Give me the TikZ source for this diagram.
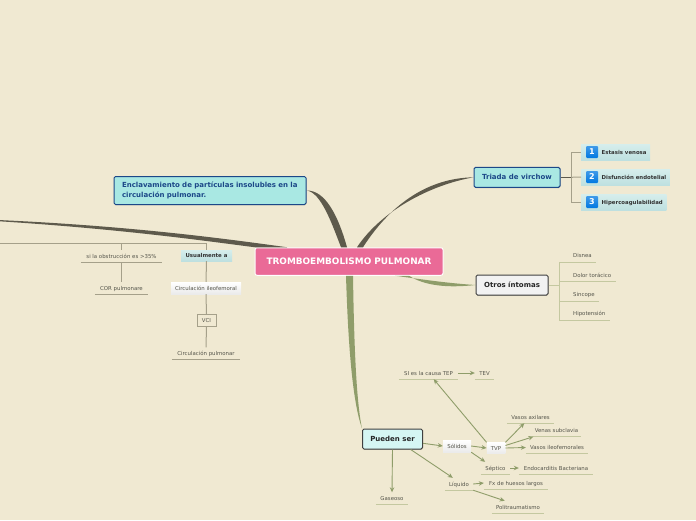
\documentclass[tikz,border=0pt]{standalone}
\usepackage{fontspec}
\setmainfont{DejaVu Sans}
\usepackage{xcolor}
\usetikzlibrary{shadows,arrows.meta}
\definecolor{mmcream}{RGB}{240,233,210}
\definecolor{mmpink}{RGB}{234,106,151}
\definecolor{mmaqua}{RGB}{169,232,227}
\definecolor{mmpale}{RGB}{213,246,243}
\definecolor{mmnavy}{RGB}{28,72,136}
\definecolor{mmdark}{RGB}{94,90,76}
\definecolor{mmolive}{RGB}{143,157,106}
\definecolor{mmline}{RGB}{165,160,138}
\definecolor{mmlineb}{RGB}{205,208,170}
\definecolor{mmtext}{RGB}{85,85,75}
\definecolor{mmblue}{RGB}{0,120,225}
\definecolor{mmnumtop}{RGB}{214,238,236}
\definecolor{mmnumbot}{RGB}{190,224,224}
\tikzstyle{arrow} = [-{Stealth[length=5pt,width=4.5pt]},line width=0.9pt,color=mmolive]
\tikzstyle{stem} = [line width=1pt,color=mmline]
\tikzstyle{stemb} = [line width=1pt,color=mmlineb!85!mmolive]
\tikzstyle{mainbox} = [rectangle, rounded corners=1.5pt, line width=1pt, drop shadow={shadow xshift=0.4pt,shadow yshift=-0.7pt,fill=black,opacity=0.3}, inner sep=0pt]
\tikzstyle{topic} = [mainbox, draw=mmnavy, fill=mmaqua, text=mmnavy, font=\fontsize{7}{9.5}\selectfont\bfseries]
\tikzstyle{plain} = [mainbox, draw=black!75, font=\fontsize{7}{8}\selectfont\bfseries, text=black!85]
\tikzstyle{leaf} = [font=\fontsize{5.4}{6}\selectfont, text=mmtext, inner sep=0pt, minimum height=12pt, text height=4pt, text depth=0pt, append after command={(\tikzlastnode.south west) edge[stem] (\tikzlastnode.south east)}]
\tikzstyle{leafb} = [font=\fontsize{5.4}{6}\selectfont, text=mmtext, inner sep=0pt, minimum height=12pt, text height=4pt, text depth=0pt, append after command={(\tikzlastnode.south west) edge[stemb] (\tikzlastnode.south east)}]
\tikzstyle{symptom} = [font=\fontsize{5.4}{6}\selectfont, text=mmtext, inner sep=0pt, anchor=south west, minimum height=12pt, text height=4pt, text depth=0pt, align=left]
\tikzstyle{numbox} = [font=\fontsize{5.4}{6}\selectfont\bfseries, text=black!80, anchor=west, inner xsep=3.5pt, minimum height=16pt, inner ysep=0pt, text height=4pt, text depth=0pt, top color=mmnumtop, bottom color=mmnumbot]
\tikzstyle{numicon} = [rounded corners=1pt, top color=mmblue!75!white, bottom color=mmblue, minimum size=12pt, inner sep=0pt, text=white, font=\fontsize{8}{8}\selectfont\bfseries]
\tikzstyle{softbox} = [font=\fontsize{5.4}{6}\selectfont, text=mmtext, inner sep=0pt, text height=4pt, text depth=0pt, top color=white, bottom color=black!8]
\begin{document}
\begin{tikzpicture}[x=1pt,y=-1pt]
\useasboundingbox[fill=mmcream] (0,0) rectangle (696,520);

% Central topic and main topics
\node (root) [rectangle, rounded corners=2pt, draw=white, line width=1pt, fill=mmpink, text=white, minimum width=188pt, minimum height=27.5pt, inner sep=0pt, font=\fontsize{8.9}{9}\selectfont\bfseries] at (349,261.5) {TROMBOEMBOLISMO PULMONAR};
\node (enclav) [topic, minimum width=192pt, minimum height=28pt, inner xsep=8pt, text width=176pt, align=left] at (210,190.5) {Enclavamiento de partículas insolubles en la\\circulación pulmonar.};
\node (triada) [topic, minimum width=86pt, minimum height=20pt] at (517,177.3) {Triada de virchow};
\node (otros) [plain, fill=black!5, minimum width=72pt, minimum height=20pt] at (512,285) {Otros íntomas};
\node (pueden) [plain, fill=mmpale, minimum width=60pt, minimum height=20pt] at (392.5,439) {Pueden ser};

% Tapered branches
\fill[mmdark] (-2,220) .. controls (130,226) and (220,238) .. ([xshift=-62pt]root.north) -- ([xshift=-94pt]root.north) .. controls (220,243) and (130,229.5) .. (-2,221.2) -- cycle;
\fill[mmdark] (enclav.east) .. controls (325,190) and (338,215) .. ([xshift=-2pt]root.north) -- ([xshift=-8pt]root.north) .. controls (332,224) and (321,192) .. (enclav.east) -- cycle;
\fill[mmdark] (triada.west) .. controls (430,178) and (392,202) .. ([xshift=14pt]root.north) -- ([xshift=8pt]root.north) .. controls (381,211) and (430,185) .. (triada.west) -- cycle;
\fill[mmolive] (otros.west) .. controls (445,283) and (420,279) .. ([xshift=46pt]root.south) -- ([xshift=60pt]root.south) .. controls (425,286) and (448,288) .. (otros.west) -- cycle;
\fill[mmolive] ([xshift=-3pt]root.south) .. controls (348,340) and (352,400) .. (pueden.north west) .. controls (356,400) and (354,340) .. ([xshift=4pt]root.south) -- cycle;

% Triada de virchow
\coordinate (virhub) at (571,177.3);
\node (estasis) [numbox] at (581,152) {\hspace*{17pt}Estasis venosa};
\node (disfuncion) [numbox] at (581,177) {\hspace*{17pt}Disfunción endotelial};
\node (hiper) [numbox] at (581,202) {\hspace*{17pt}Hipercoagulabilidad};
\node (uno) [numicon] at (592,152) {1};
\node (dos) [numicon] at (592,177) {2};
\node (tres) [numicon] at (592,202) {3};
\draw[stem, color=mmdark] (triada.east) -- (virhub);
\draw[stem] (virhub) |- (estasis.west);
\draw[stem] (virhub) -- (disfuncion.west);
\draw[stem] (virhub) |- (hiper.west);

% Otros intomas
\coordinate (otrohub) at (559,285);
\node (disnea) [symptom, text width=23pt] at (573,262) {Disnea};
\node (dolor) [symptom, text width=43pt] at (573,281.5) {Dolor torácico};
\node (sincope) [symptom, text width=26pt] at (573,301) {Sincope};
\node (hipo) [symptom, text width=37pt] at (573,320) {Hipotensión};
\draw[stemb] (otros.east) -- (otrohub);
\draw[stemb] (otrohub) |- (disnea.south east);
\draw[stemb] (otrohub) |- (dolor.south east);
\draw[stemb] (otrohub) |- (sincope.south east);
\draw[stemb] (otrohub) |- (hipo.south east);

% Left side
\coordinate (leftbus) at (0,243.5);
\node (obstruccion) [leaf, minimum width=81pt] at (121.5,256) {si la obstrucción es >35\%};
\node (cor) [leaf, minimum width=53pt] at (121.5,288.5) {COR pulmonare};
\node (usual) [softbox, top color=mmnumtop, bottom color=mmnumbot, minimum width=51pt, minimum height=11pt, text=black!80, font=\fontsize{5.4}{6}\selectfont\bfseries] at (206.5,255.5) {Usualmente a};
\node (ileo) [softbox, minimum width=70pt, minimum height=12pt] at (206,288) {Circulación ileofemoral};
\node (vci) [draw=mmline, line width=0.8pt, fill=mmcream, text=mmtext, minimum width=19pt, minimum height=12pt, inner sep=0pt, font=\fontsize{5.4}{6}\selectfont] at (206.5,320.5) {VCI};
\node (cpulm) [leaf, minimum width=68pt] at (206,353.5) {Circulación pulmonar};
\draw[stem] (leftbus) -| (obstruccion.north);
\draw[stem] (leftbus) -| (usual.north);
\draw[stem] (obstruccion.south) -- (cor.north);
\draw[stem] (usual.south) -- (ileo.north);
\draw[stem] (ileo.south) -- (vci.north);
\draw[stem] (vci.south) -- (cpulm.north);

% Pueden ser
\node (solidos) [softbox, minimum width=28pt, minimum height=12pt] at (457,446) {Sólidos};
\node (tvp) [softbox, minimum width=18.5pt, minimum height=11pt] at (496,448) {TVP};
\node (gaseoso) [leafb, minimum width=32pt] at (392,498.5) {Gaseoso};
\node (liquido) [leafb, minimum width=28pt] at (459,484) {Líquido};
\node (fx) [leafb, minimum width=64pt] at (516,483) {Fx de huesos largos};
\node (polit) [leafb, minimum width=52pt] at (518,507) {Politraumatismo};
\node (septico) [leafb, minimum width=29pt] at (495.5,468) {Séptico};
\node (endo) [leafb, minimum width=74pt] at (556,468) {Endocarditis Bacteriana};
\node (causa) [leafb, minimum width=59pt] at (428.5,373) {SI es la causa TEP};
\node (tev) [leafb, minimum width=19pt] at (484.5,373) {TEV};
\node (axilares) [leafb, minimum width=47pt] at (530.5,417) {Vasos axilares};
\node (subclavia) [leafb, minimum width=49pt] at (556.5,430.5) {Venas subclavia};
\node (ileofem) [leafb, minimum width=62pt] at (557,447.5) {Vasos ileofemorales};

\draw[arrow] (pueden.-8) -- (solidos.west);
\draw[arrow] (pueden.south) -- (gaseoso.north);
\draw[arrow] (pueden.-30) -- (liquido.135);
\draw[arrow] (solidos.east) -- (tvp.west);
\draw[arrow] (solidos.south east) -- (septico.149);
\draw[arrow] (septico.east) -- (endo.west);
\draw[arrow] (tvp.north west) -- (causa.-50);
\draw[arrow] (causa.east) -- (tev.west);
\draw[arrow] (tvp.north east) -- (axilares.-135);
\draw[arrow] (tvp.15) -- (subclavia.-165);
\draw[arrow] (tvp.east) -- (ileofem.west);
\draw[arrow] (liquido.east) -- (fx.west);
\draw[arrow] (liquido.south east) -- (polit.155);
\end{tikzpicture}
\end{document}
